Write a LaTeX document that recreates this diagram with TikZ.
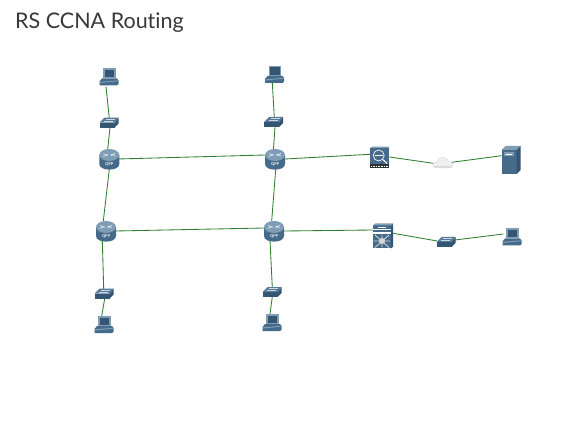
\documentclass[tikz,border=0pt]{standalone}
\usepackage{fontspec}
\setmainfont{Lato}[Ligatures=CommonOff]
\definecolor{ic}{HTML}{456A8A}
\definecolor{icd}{HTML}{355672}
\definecolor{icl}{HTML}{7F9DB5}
\definecolor{lnk}{HTML}{2F7F32}
\newcommand{\lk}[6]{\draw[link] ([shift={(#2,#3)}]#1.center) -- ([shift={(#5,#6)}]#4.center);}
\tikzset{
  x=1pt,y=-1pt,
  dev/.style={inner sep=0pt,minimum size=12pt},
  link/.style={draw=lnk,line width=.85pt},
  pc/.pic={
    \fill[icl] (-6,-8.5) -- (6.5,-8.5) -- (6.5,1.5) -- (-6,1.5) -- cycle;
    \fill[icd] (-4.5,-7) rectangle (5,.2);
    \fill[ic] (-7,1.5) -- (8,1.5) -- (9.5,3.5) -- (9.5,7) -- (8,8.5) -- (-9.5,8.5) -- (-9.5,4.5) -- cycle;
    \fill[icl] (-8.5,4.8) -- (8.5,3.4) -- (9,4.2) -- (-9,6) -- cycle;
  },
  switchic/.pic={
    \fill[icd] (-9.5,0) -- (5.5,0) -- (5.5,5) -- (-9.5,5) -- cycle;
    \fill[icd] (5.5,0) -- (9.5,-5) -- (9.5,1) -- (5.5,5) -- cycle;
    \fill[ic!70!icl] (-9.5,0) -- (-4.5,-5) -- (9.5,-5) -- (5.5,0) -- cycle;
    \draw[white!60!icl,line width=.3pt] (-5,-1.4) -- (4,-1.4) (-3,-3.6) -- (6,-3.6);
  },
  router/.pic={
    \fill[ic] (-10,-4) -- (-10,5) .. controls (-10,12.5) and (10,12.5) .. (10,5) -- (10,-4) -- cycle;
    \fill[icl] (0,-4) ellipse[x radius=10,y radius=6];
    \draw[white,line width=.45pt] (-6,-5.5) -- (-1.5,-3.5) (1.5,-5) -- (6,-3) (-6,-2.5) -- (-1.5,-4.8) (1.5,-3.2) -- (6,-6);
    \node[text=white,font=\fontsize{4}{4}\selectfont\bfseries,inner sep=0pt] at (0,5.5) {QFP};
  },
  firewall/.pic={
    \fill[ic] (-9.5,-9.5) rectangle (9.5,7);
    \fill[icl] (-9.5,-9.5) -- (-7.5,-10.8) -- (9.5,-10.8) -- (9.5,-9.5) -- cycle;
    \draw[white,line width=.7pt] (-1,-2) circle[radius=5.5];
    \draw[white,line width=1pt] (3,2) -- (7.5,6);
    \draw[white,line width=.5pt] (-5,-2) -- (3,-2);
    \fill[black!80] (-9.5,6.5) rectangle (9.5,10.8);
    \draw[white,line width=.35pt,dash pattern=on .8pt off .8pt] (-8.5,8.6) -- (8.5,8.6);
  },
  cloudic/.pic={
    \fill[black!6,draw=black!20,line width=.3pt] (-7,5.5) .. controls (-11.5,5.5) and (-11,-.5) .. (-6,-.5)
      .. controls (-6,-6.5) and (5,-6.5) .. (5,-1.5)
      .. controls (10.5,-1.5) and (11.5,5.5) .. (6.5,5.5) -- cycle;
    \fill[black!14] (-9,3.5) .. controls (-8,5.3) and (-8,5.3) .. (-7,5.3) -- (6.5,5.3) .. controls (8,5.3) and (8.5,4.5) .. (9,3.5) -- cycle;
  },
  serveric/.pic={
    \fill[ic] (-9.5,-10) rectangle (5.5,14);
    \fill[icl] (-9.5,-10) -- (-5.5,-14) -- (9.5,-14) -- (5.5,-10) -- cycle;
    \fill[icd] (5.5,-10) -- (9.5,-14) -- (9.5,10) -- (5.5,14) -- cycle;
    \fill[icl] (-7.5,-7.5) rectangle (2.5,-3.5);
    \draw[white,line width=.4pt] (-5.5,-5.5) -- (.5,-5.5);
  },
  nexus/.pic={
    \fill[ic] (-10,-10.5) rectangle (8,12.5);
    \fill[icd] (8,-10.5) -- (10,-12.5) -- (10,10.5) -- (8,12.5) -- cycle;
    \fill[icl] (-10,-10.5) -- (-8,-12.5) -- (10,-12.5) -- (8,-10.5) -- cycle;
    \draw[white,line width=.6pt] (-10,-6.5) -- (8,-6.5) (-10,-2.2) -- (8,-2.2) (-10,-3.6) -- (8,-3.6);
    \draw[white,line width=.4pt] (-5,-8.5) -- (3,-8.5);
    \fill[white!85!black] (-1,5) circle[radius=3];
    \draw[white!85!black,line width=.8pt] (-8,-1) -- (6,11.5) (6,-1) -- (-8,11.5) (-1,-1) -- (-1,11.5) (-9,5) -- (7,5);
  },
}
\begin{document}
\begin{tikzpicture}
\useasboundingbox (0,0) rectangle (575,430);
\fill[white] (0,0) rectangle (575,430);
\node[anchor=base west,inner sep=0pt,font=\fontsize{21.5}{24}\selectfont,text=black!78] (title) at (15,28.3) {RS CCNA Routing};
\node[dev] (pca) at (109,77) {};
\node[dev] (swa) at (109,122.7) {};
\node[dev] (ra) at (109.3,159) {};
\node[dev] (rb) at (106,231) {};
\node[dev] (swb) at (104,293.5) {};
\node[dev] (pcb) at (104,324.5) {};
\node[dev] (pcc) at (274.5,74.5) {};
\node[dev] (swc) at (273.5,122) {};
\node[dev] (rc) at (275,159) {};
\node[dev] (rd) at (274,231) {};
\node[dev] (swd) at (272,292) {};
\node[dev] (pcd) at (272,322.5) {};
\node[dev] (fw) at (379.7,157.5) {};
\node[dev] (cl) at (443,162.5) {};
\node[dev] (srv) at (511,160) {};
\node[dev] (nx) at (383,236) {};
\node[dev] (swe) at (446,242) {};
\node[dev] (pce) at (512,237) {};
\lk{pca}{-3}{9.7}{swa}{.3}{-4.4}
\lk{swa}{1}{5}{ra}{-1.6}{-10}
\lk{ra}{0}{10.3}{rb}{-2.7}{-10}
\lk{rb}{-3.7}{9}{swb}{-.3}{-4.5}
\lk{swb}{1}{3.5}{pcb}{-2.3}{-8.5}
\lk{pcc}{-2.2}{8.2}{swc}{.8}{-4.7}
\lk{swc}{1.5}{5}{rc}{-1.5}{-10}
\lk{rc}{.7}{10.3}{rd}{-2.3}{-10}
\lk{rd}{-4}{9}{swd}{.3}{-4.3}
\lk{swd}{.3}{4.7}{pcd}{-2}{-8.5}
\lk{ra}{8.7}{0}{rc}{-10}{-4}
\lk{rb}{10}{0}{rd}{-10}{-3}
\lk{rc}{10}{0}{fw}{-9.7}{-3.2}
\lk{fw}{9.6}{-.5}{cl}{-9.7}{.8}
\lk{cl}{8.7}{-.2}{srv}{-9.3}{-4.3}
\lk{rd}{10}{0}{nx}{-9.7}{-6}
\lk{nx}{10.3}{-2.7}{swe}{-8.7}{-1}
\lk{swe}{9}{-2}{pce}{-8.7}{-3}
\pic at (pca) {pc};
\pic at (pcb) {pc};
\pic at (pcc) {pc};
\pic at (pcd) {pc};
\pic at (pce) {pc};
\pic at (swa) {switchic};
\pic at (swb) {switchic};
\pic at (swc) {switchic};
\pic at (swd) {switchic};
\pic at (swe) {switchic};
\pic at (ra) {router};
\pic at (rb) {router};
\pic at (rc) {router};
\pic at (rd) {router};
\pic at (fw) {firewall};
\pic at (cl) {cloudic};
\pic at (srv) {serveric};
\pic at (nx) {nexus};
\end{tikzpicture}
\end{document}
